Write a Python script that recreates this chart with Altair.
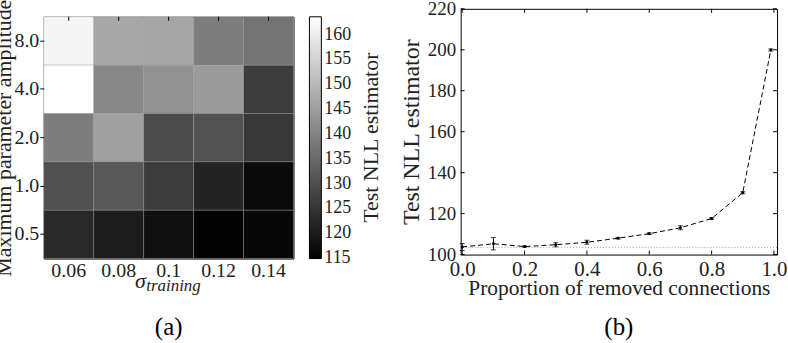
import altair as alt
import pandas as pd

# ---------------- data: heatmap (a) ----------------
sigma_labels = ["0.06", "0.08", "0.1", "0.12", "0.14"]
amp_labels = ["8.0", "4.0", "2.0", "1.0", "0.5"]
nll_amp_8 = [161.7, 147.0, 146.4, 138.8, 136.9]
nll_amp_4 = [163.6, 140.7, 142.6, 144.5, 126.4]
nll_amp_2 = [138.8, 145.5, 129.3, 130.6, 125.5]
nll_amp_1 = [130.2, 131.8, 126.4, 121.7, 116.9]
nll_amp_05 = [122.6, 120.3, 117.9, 115.4, 116.5]
colorbar_ticks = [115, 120, 125, 130, 135, 140, 145, 150, 155, 160]
color_domain = [114.9, 163.6]
colorbar_title = ["Test NLL estimator"]

# ---------------- data: line chart (b) ----------------
removed = [0.0, 0.1, 0.2, 0.3, 0.4, 0.5, 0.6, 0.7, 0.8, 0.9, 0.99]
nll_est = [103.7, 105.3, 103.9, 104.8, 106.0, 108.0, 110.2, 113.1, 117.6, 130.2, 199.9]
nll_err = [1.7, 3.0, 0.3, 1.0, 1.0, 0.4, 0.4, 1.0, 0.4, 0.5, 0.5]
baseline_nll = [103.4]
x_ticks = [0.0, 0.2, 0.4, 0.6, 0.8, 1.0]
y_ticks = [100, 120, 140, 160, 180, 200, 220]

FONT = "Liberation Serif"

# ---------------- heatmap ----------------
HW, HH = 251, 243
rows = []
for amp, vals in zip(amp_labels, [nll_amp_8, nll_amp_4, nll_amp_2, nll_amp_1, nll_amp_05]):
    for s, v in zip(sigma_labels, vals):
        rows.append({"sigma": s, "amp": amp, "nll": v})
heat_df = pd.DataFrame(rows)

hx_scale = alt.Scale(domain=sigma_labels, paddingInner=0, paddingOuter=0)
hy_scale = alt.Scale(domain=amp_labels, paddingInner=0, paddingOuter=0)
hx_axis = alt.Axis(title=None, labelAngle=0, labelFontSize=20, ticks=False, domain=False,
                   labelPadding=2, labelColor="#222")
hy_axis = alt.Axis(title="Maximum parameter amplitude", titleFontSize=22, titleFontWeight="normal",
                   labelFontSize=20, ticks=True, tickSize=4, tickColor="black", domain=False,
                   labelPadding=1, titlePadding=-2, labelColor="#222", titleColor="#222")

heat = alt.Chart(heat_df).mark_rect(stroke="#9a9a9a", strokeWidth=0.5, strokeOpacity=0.7).encode(
    x=alt.X("sigma:N", scale=hx_scale, axis=hx_axis),
    y=alt.Y("amp:N", scale=hy_scale, axis=hy_axis),
    color=alt.Color(
        "nll:Q",
        scale=alt.Scale(domain=color_domain, range=["#000000", "#ffffff"], zero=False, nice=False,
                        interpolate="rgb"),
        legend=alt.Legend(
            title=None, orient="right", direction="vertical",
            gradientLength=HH, gradientThickness=12, offset=16, padding=0,
            values=colorbar_ticks, labelFontSize=18, labelOffset=3, labelColor="#222",
            labelOverlap=False, gradientStrokeColor="black", gradientStrokeWidth=1,
        ),
    ),
)

sig_df = pd.DataFrame({"sigma": sigma_labels})
top_ticks_h = alt.Chart(sig_df).mark_rule(color="black").encode(
    x=alt.X("sigma:N", scale=hx_scale, axis=hx_axis, bandPosition=0.5),
    y=alt.value(0), y2=alt.value(4))

sub_sigma = alt.Chart(pd.DataFrame({"t": ["σ"]})).mark_text(
    fontSize=22, fontStyle="italic", align="center", baseline="alphabetic", color="#222"
).encode(text="t:N", x=alt.value(97), y=alt.value(273))
sub_training = alt.Chart(pd.DataFrame({"t": ["training"]})).mark_text(
    fontSize=17, fontStyle="italic", align="left", baseline="alphabetic", color="#222"
).encode(text="t:N", x=alt.value(103), y=alt.value(276))
cb_title = alt.Chart(pd.DataFrame({"t": colorbar_title})).mark_text(
    fontSize=22, angle=270, align="center", baseline="middle", color="#222"
).encode(text="t:N", x=alt.value(329), y=alt.value(HH / 2))

heat_panel = alt.layer(heat, top_ticks_h, sub_sigma, sub_training, cb_title).properties(
    width=HW, height=HH,
    title=alt.TitleParams("(a)", orient="bottom", fontSize=25, fontWeight="normal", offset=21,
                          color="black"),
)

spacer = alt.Chart(pd.DataFrame({"s": [""]})).mark_text().encode(text="s:N").properties(
    width=HW, height=8, view=alt.ViewBackground(stroke=None))

left = alt.vconcat(spacer, heat_panel, spacing=0, bounds="flush").resolve_scale(
    color="independent").resolve_legend(color="independent")

# ---------------- line chart ----------------
LW, LH = 318, 247
line_df = pd.DataFrame({
    "p": removed,
    "nll": nll_est,
    "lo": [v - e for v, e in zip(nll_est, nll_err)],
    "hi": [v + e for v, e in zip(nll_est, nll_err)],
})
lx_scale = alt.Scale(domain=[-0.005, 1.01], nice=False, zero=False)
ly_scale = alt.Scale(domain=[100, 220], nice=False, zero=False)
lx_axis = alt.Axis(title="Proportion of removed connections", values=x_ticks, format=".1f",
                   ticks=False, domain=False, grid=False, labelFontSize=21, titleFontSize=21.5,
                   titleFontWeight="normal", labelPadding=4, titlePadding=-2, labelFlush=False,
                   labelColor="#222", titleColor="#222")
ly_axis = alt.Axis(title="Test NLL estimator", values=y_ticks, format="d", ticks=False,
                   domain=False, grid=False, labelFontSize=19, titleFontSize=24,
                   titleFontWeight="normal", labelPadding=5, titlePadding=4,
                   labelColor="#222", titleColor="#222")

base = alt.Chart(line_df)
X = alt.X("p:Q", scale=lx_scale, axis=lx_axis)
Y = alt.Y("nll:Q", scale=ly_scale, axis=ly_axis)
line = base.mark_line(color="black", strokeDash=[5, 3], strokeWidth=1).encode(x=X, y=Y)
pts = base.mark_circle(color="black", size=9, opacity=1).encode(x=X, y=Y)
err = base.mark_rule(color="black", strokeWidth=1).encode(
    x=X, y=alt.Y("lo:Q", scale=ly_scale, axis=ly_axis), y2="hi:Q")
cap_lo = base.mark_tick(color="black", orient="horizontal", size=5, thickness=1).encode(
    x=X, y=alt.Y("lo:Q", scale=ly_scale, axis=ly_axis))
cap_hi = base.mark_tick(color="black", orient="horizontal", size=5, thickness=1).encode(
    x=X, y=alt.Y("hi:Q", scale=ly_scale, axis=ly_axis))
ref = alt.Chart(pd.DataFrame({"b": baseline_nll})).mark_rule(
    color="#9a9a9a", strokeDash=[1, 2], strokeWidth=1).encode(
    y=alt.Y("b:Q", scale=ly_scale, axis=ly_axis))

xt_df = pd.DataFrame({"t": x_ticks})
yt_df = pd.DataFrame({"t": y_ticks})
XT = alt.X("t:Q", scale=lx_scale, axis=lx_axis)
YT = alt.Y("t:Q", scale=ly_scale, axis=ly_axis)
tick_top = alt.Chart(xt_df).mark_rule(color="black").encode(x=XT, y=alt.value(0), y2=alt.value(4))
tick_bot = alt.Chart(xt_df).mark_rule(color="black").encode(x=XT, y=alt.value(LH - 4), y2=alt.value(LH))
tick_left = alt.Chart(yt_df).mark_rule(color="black").encode(y=YT, x=alt.value(0), x2=alt.value(4))
tick_right = alt.Chart(yt_df).mark_rule(color="black").encode(y=YT, x=alt.value(LW - 4), x2=alt.value(LW))

right = alt.layer(ref, line, err, cap_lo, cap_hi, pts, tick_top, tick_bot, tick_left, tick_right).properties(
    width=LW, height=LH,
    title=alt.TitleParams("(b)", orient="bottom", fontSize=25, fontWeight="normal", offset=16,
                          color="black"),
)

chart = alt.hconcat(left, right, spacing=16).resolve_scale(color="independent").resolve_legend(
    color="independent").properties(
    padding={"left": -8, "top": -3, "right": 0, "bottom": 0}
).configure(font=FONT).configure_view(stroke="black", strokeWidth=1).configure_axis(
    labelFont=FONT, titleFont=FONT
).configure_legend(labelFont=FONT, titleFont=FONT).configure_title(font=FONT)

chart.save("out.html", embed_options={"renderer": "svg", "actions": False})
